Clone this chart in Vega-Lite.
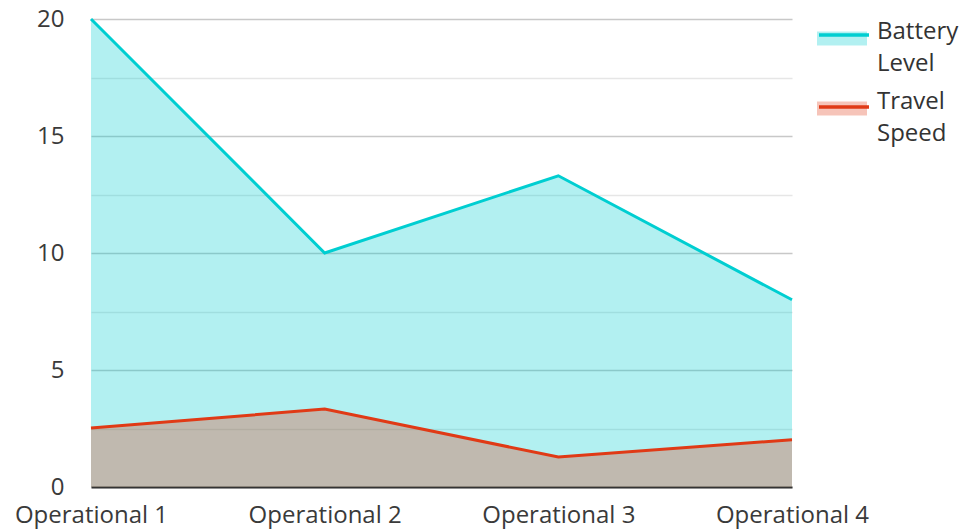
{
  "$schema": "https://vega.github.io/schema/vega-lite/v6.json",
  "width": 701,
  "height": 468,
  "autosize": "none",
  "padding": {"left": 91, "top": 19, "right": 173, "bottom": 44},
  "config": {
    "font": "Open Sans",
    "view": {"stroke": null},
    "axis": {"labelFont": "Open Sans", "labelFontSize": 24, "labelColor": "#3a3a3a", "title": null}
  },
  "data": {
    "values": [
      {"stage": "Operational 1", "series": "Battery Level", "value": 20},
      {"stage": "Operational 2", "series": "Battery Level", "value": 10},
      {"stage": "Operational 3", "series": "Battery Level", "value": 13.3},
      {"stage": "Operational 4", "series": "Battery Level", "value": 8},
      {"stage": "Operational 1", "series": "Travel Speed", "value": 2.52},
      {"stage": "Operational 2", "series": "Travel Speed", "value": 3.33},
      {"stage": "Operational 3", "series": "Travel Speed", "value": 1.28},
      {"stage": "Operational 4", "series": "Travel Speed", "value": 2.02}
    ]
  },
  "encoding": {
    "x": {
      "field": "stage", "type": "ordinal", "sort": null,
      "scale": {"type": "point", "padding": 0},
      "axis": {"labelAngle": 0, "ticks": false, "domainColor": "#333333", "domainWidth": 2, "labelPadding": 16, "grid": false}
    },
    "y": {
      "field": "value", "type": "quantitative", "stack": null,
      "scale": {"domain": [0, 20], "nice": false, "zero": true},
      "axis": {
        "values": [0, 2.5, 5, 7.5, 10, 12.5, 15, 17.5, 20],
        "labelExpr": "datum.value % 5 === 0 ? datum.label : ''",
        "domain": false, "ticks": false, "labelPadding": 27,
        "grid": true,
        "gridColor": {"condition": {"test": "datum.value % 5 === 0", "value": "#c8c8c8"}, "value": "#e6e6e6"},
        "gridWidth": 1.5
      }
    }
  },
  "layer": [
    {
      "mark": {"type": "area", "fillOpacity": 0.3, "line": false},
      "encoding": {
        "fill": {
          "field": "series", "type": "nominal",
          "scale": {"range": ["#00CED1", "#E03A16"]},
          "legend": {
            "title": null, "orient": "none", "legendX": 726, "legendY": -11, "padding": 0,
            "symbolType": "M-1,-0.06L1,-0.06L1,0.5L-1,0.5Z", "symbolSize": 2500, "symbolStrokeWidth": 0, "symbolOpacity": 0.3,
            "labelFont": "Open Sans", "labelFontSize": 24, "labelColor": "#333333", "labelOffset": 10,
            "labelExpr": "split(datum.label, ' ')", "labelBaseline": "middle", "rowPadding": 2, "labelLimit": 200,
            "encode": {"labels": {"update": {"lineHeight": {"value": 32}, "dy": {"value": -1}}}}
          }
        }
      }
    },
    {
      "mark": {"type": "line", "strokeWidth": 3},
      "encoding": {
        "stroke": {
          "field": "series", "type": "nominal",
          "scale": {"domain": ["Battery Level", "Travel Speed"], "range": ["#00CED1", "#E03A16"]},
          "legend": {
            "title": null, "orient": "none", "legendX": 726, "legendY": -11, "padding": 0,
            "symbolType": "stroke", "symbolSize": 2500, "symbolStrokeWidth": 3.5,
            "labelFont": "Open Sans", "labelFontSize": 24, "labelColor": "#333333", "labelOffset": 10,
            "labelExpr": "[' ', ' ']", "labelBaseline": "middle", "rowPadding": 2, "labelLimit": 200,
            "encode": {"labels": {"update": {"lineHeight": {"value": 32}, "dy": {"value": -1}}}}
          }
        }
      }
    }
  ]
}
